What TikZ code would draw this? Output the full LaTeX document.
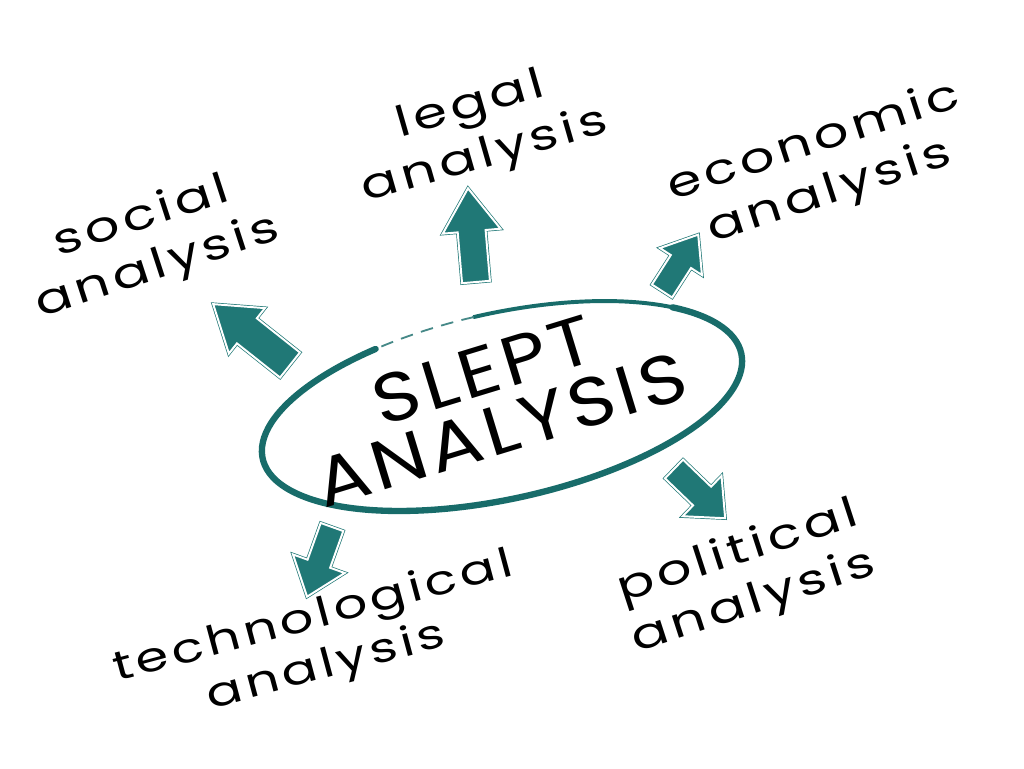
\documentclass[tikz,border=0pt]{standalone}
\usepackage{fontspec}
\setmainfont{Poppins}
\newfontfamily\handfont[FakeStretch=1.3,LetterSpace=10]{Poppins}
\newfontfamily\bigfont[FakeStretch=1.15,LetterSpace=6]{Poppins}
\definecolor{tealA}{RGB}{32,120,118}
\definecolor{tealE}{RGB}{24,108,106}
\newcommand\blockarr[7]{% name, tail, angle, length, shaft, headwidth, headlength
  \begin{scope}[shift={(#2)}, rotate=#3]
    \path[arrowbox] (0,-#5/2) -- (#4-#7,-#5/2) -- (#4-#7,-#6/2) -- (#4,0)
      coordinate (#1) -- (#4-#7,#6/2) -- (#4-#7,#5/2) -- (0,#5/2) -- cycle;
  \end{scope}}
\begin{document}
\begin{tikzpicture}[x=0.25mm,y=-0.25mm,
  arrowbox/.style={fill=tealA,draw=tealA,double=white,double distance=1.4pt,line width=0.5pt,line join=miter},
  label/.style={align=center,inner sep=0pt,font=\handfont\fontsize{30}{37}\selectfont},
  big/.style={align=center,rotate=17,inner sep=0pt,font=\bigfont\fontsize{49}{44}\selectfont}]
\useasboundingbox[fill=white] (0,0) rectangle (1024,768);
% central ellipse
\begin{scope}[shift={(502,406)},rotate=12.4]
  \draw[tealE,line width=4.5pt,line cap=round] (-117:245 and 93) arc[start angle=-117,end angle=-400,x radius=245,y radius=93];
  \draw[tealE,line width=2.8pt,line cap=round] (-40:245 and 93) arc[start angle=-40,end angle=-92,x radius=245,y radius=93];
  \draw[tealE!80,line width=1.3pt,dash pattern=on 9pt off 6pt] (-92:245 and 93) arc[start angle=-92,end angle=-117,x radius=245,y radius=93];
\end{scope}
\node[big] (center) at (492,400) {SLEPT\\ANALYSIS};
% arrows
\blockarr{asocial}{290,365}{141.6}{98}{32}{58}{43}
\blockarr{alegal}{476,282}{94.9}{94}{28}{58}{43}
\blockarr{aecon}{662,291}{57.3}{67}{24}{50}{32}
\blockarr{atech}{332,527}{250.3}{74}{24}{55}{35}
\blockarr{apol}{674,469}{-43.9}{71}{26}{56}{32}
% labels
\node[label,rotate=18] (social) at (150,243) {social\\analysis};
\node[label,rotate=16] (legal) at (478,132) {legal\\analysis};
\node[label,rotate=18] (econ) at (822,168) {economic\\analysis};
\node[label,rotate=18] (pol) at (746,578) {political\\analysis};
\node[label,rotate=15,font=\handfont\fontsize{29}{36}\selectfont] (tech) at (320,643) {technological\\analysis};
\end{tikzpicture}
\end{document}
